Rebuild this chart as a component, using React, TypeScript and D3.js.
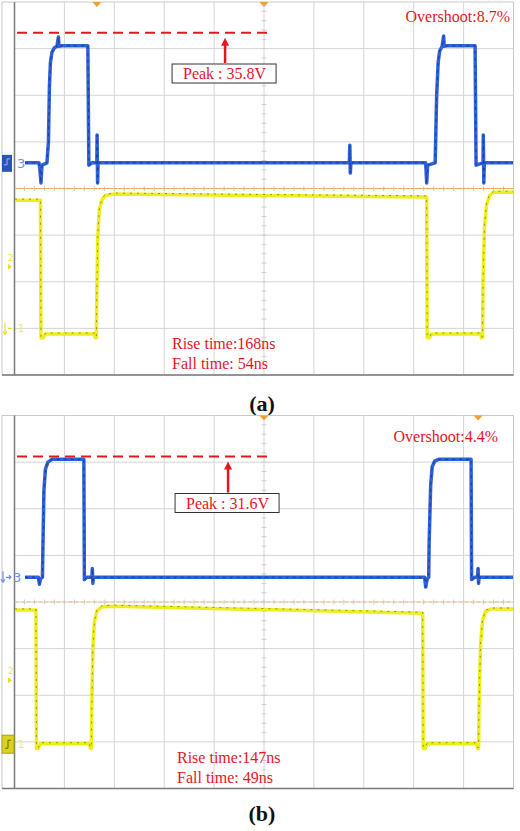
import React from "react";
import * as d3 from "d3";

// ---- data (time and voltage in scope divisions) ----
const blueA: [number, number][] = [
  [0.21, 0.55], [0.49, 0.55], [0.51, 0.4], [0.53, 0.12], [0.55, 0.5], [0.65, 0.55],
  [0.68, 1.0], [0.7, 2.2], [0.72, 2.7], [0.75, 2.92], [0.8, 3.02], [0.85, 3.05],
  [0.88, 3.25], [0.89, 3.05], [0.95, 3.06], [1.47, 3.06], [1.49, 0.5], [1.55, 0.55],
  [1.65, 0.55], [1.655, 1.15], [1.665, 0.12], [1.675, 0.55], [6.71, 0.55], [6.72, 0.93],
  [6.73, 0.33], [6.74, 0.55], [8.24, 0.55], [8.26, 0.12], [8.28, 0.5], [8.43, 0.55],
  [8.46, 2.0], [8.49, 2.7], [8.52, 2.95], [8.57, 3.05], [8.6, 3.27], [8.61, 3.05],
  [8.67, 3.06], [9.23, 3.06], [9.25, 0.5], [9.39, 0.55], [9.395, 1.15], [9.405, 0.12],
  [9.415, 0.55], [9.99, 0.55],
];
const yellowA: [number, number][] = [
  [0.01, -0.25], [0.52, -0.25], [0.53, -3.2], [0.58, -3.2], [0.62, -3.12], [1.6, -3.12],
  [1.62, -3.2], [1.64, -3.2], [1.65, -2.2], [1.67, -1.0], [1.7, -0.45], [1.75, -0.25],
  [1.82, -0.15], [2.0, -0.12], [5.0, -0.15], [8.26, -0.18], [8.27, -3.2], [8.32, -3.2],
  [8.36, -3.12], [9.34, -3.12], [9.36, -3.2], [9.38, -3.2], [9.39, -2.0], [9.42, -0.8],
  [9.46, -0.35], [9.52, -0.15], [9.6, -0.08], [9.99, -0.08],
];
const blueB: [number, number][] = [
  [0.21, 0.53], [0.48, 0.53], [0.5, 0.38], [0.52, 0.5], [0.56, 0.53], [0.57, 1.2],
  [0.59, 2.4], [0.62, 2.85], [0.67, 3.0], [0.75, 3.06], [1.39, 3.06], [1.4, 0.48],
  [1.45, 0.53], [1.55, 0.53], [1.56, 0.72], [1.57, 0.4], [1.58, 0.53], [8.22, 0.53],
  [8.24, 0.32], [8.27, 0.5], [8.3, 0.53], [8.31, 1.3], [8.34, 2.5], [8.37, 2.9],
  [8.42, 3.02], [8.5, 3.06], [9.15, 3.06], [9.16, 0.48], [9.22, 0.53], [9.28, 0.53],
  [9.29, 0.72], [9.3, 0.4], [9.31, 0.53], [9.99, 0.53],
];
const yellowB: [number, number][] = [
  [0.01, -0.17], [0.43, -0.17], [0.44, -3.14], [0.48, -3.14], [0.52, -3.04], [1.5, -3.04],
  [1.52, -3.14], [1.54, -3.14], [1.55, -2.2], [1.57, -1.0], [1.6, -0.45], [1.65, -0.2],
  [1.75, -0.1], [2.0, -0.09], [8.18, -0.24], [8.19, -3.14], [8.23, -3.14], [8.27, -3.04],
  [9.25, -3.04], [9.28, -3.14], [9.3, -3.14], [9.31, -2.2], [9.34, -0.9], [9.38, -0.4],
  [9.44, -0.2], [9.55, -0.15], [9.99, -0.15],
];
const peakValues = [3.34, 3.12];
const peakLabels = ["Peak : 35.8V", "Peak : 31.6V"];
const overshootLabels = ["Overshoot:8.7%", "Overshoot:4.4%"];
const riseLabels = ["Rise time:168ns", "Rise time:147ns"];
const fallLabels = ["Fall time: 54ns", "Fall time: 49ns"];
const captions = ["(a)", "(b)"];
const triggerMarks = [[1.65, 5.0], [5.0, 9.29]];
const peakArrowT = [4.22, 4.28];
const peakLineEnd = [5.16, 5.16];

const RED = "#e5161f";
const FONT = "'Liberation Serif', 'Times New Roman', serif";

function Panel({ idx, top }: { idx: number; top: number }) {
  const bottom = top + 373;
  const x = d3.scaleLinear().domain([0, 10]).range([14.5, 513.5]);
  const y = d3.scaleLinear().domain([-4, 4]).range([bottom, top]);
  const line = d3.line<[number, number]>().x((d) => x(d[0])).y((d) => y(d[1]));
  const blue = idx === 0 ? blueA : blueB;
  const yellow = idx === 0 ? yellowA : yellowB;
  const vt = d3.range(1, 10);
  const ht = d3.range(-3, 4);
  const minorX = d3.range(0, 10.01, 0.2);
  const minorY = d3.range(-4, 4.01, 0.2);
  const ov = idx === 0 ? { x: 510, y: top + 20 } : { x: 498, y: top + 26 };
  const rx = idx === 0 ? 172 : 177;
  const py = y(peakValues[idx]);
  const boxTop = idx === 0 ? top + 61 : top + 77;
  const ax = x(peakArrowT[idx]);
  const chan3Y = y(blue[0][1]);
  const chan1Y = y(idx === 0 ? -3.0 : -3.05);
  const c2 = y(-1.55);
  return (
    <g>
      {/* frame */}
      <rect x={2} y={top} width={511.5} height={373} fill="#fff" stroke="#c9c9c9" />
      {/* grid */}
      {vt.map((t) => (
        <line key={"v" + t} x1={x(t)} x2={x(t)} y1={top} y2={bottom} stroke="#d4d4d4" strokeWidth={1} />
      ))}
      {ht.map((t) => (
        <line key={"h" + t} x1={x(0)} x2={x(10)} y1={y(t)} y2={y(t)} stroke="#d4d4d4" strokeWidth={1} />
      ))}
      {minorX.map((t, i) => (
        <line key={"mx" + i} x1={x(t)} x2={x(t)} y1={y(0) - 2.5} y2={y(0) + 2.5} stroke="#cfcfcf" />
      ))}
      {minorY.map((t, i) => (
        <line key={"my" + i} x1={x(5) - 2.5} x2={x(5) + 2.5} y1={y(t)} y2={y(t)} stroke="#cfcfcf" />
      ))}
      <line x1={x(0)} x2={x(0)} y1={top} y2={bottom} stroke="#7a7a7a" strokeWidth={1.5} />
      <line x1={2} x2={513.5} y1={bottom} y2={bottom} stroke="#7a7a7a" strokeWidth={1.5} />
      {/* trigger level */}
      <line x1={x(0)} x2={x(10)} y1={y(0)} y2={y(0)} stroke={idx === 0 ? "#f2a040" : "#e6c08e"}
        strokeWidth={1.2} strokeDasharray={idx === 0 ? "3 1" : "4 2"} />
      {triggerMarks[idx].map((t, i) => (
        <path key={"tm" + i} d={`M${x(t) - 4.5},${top} L${x(t) + 4.5},${top} L${x(t)},${top + 5} Z`} fill="#f0a030" />
      ))}
      {/* traces */}
      <path d={line(yellow) || ""} fill="none" stroke="#eeee1e" strokeWidth={3.5} strokeLinejoin="round" />
      <path d={line(yellow) || ""} fill="none" stroke="#4a4a20" strokeWidth={0.8} strokeDasharray="2 5" opacity={0.7} transform="translate(0,-1)" />
      <path d={line(blue) || ""} fill="none" stroke="#2f62d6" strokeWidth={3.5} strokeLinejoin="round" />
      <path d={line(blue) || ""} fill="none" stroke="#1a2c8c" strokeWidth={1} strokeDasharray="3 4" opacity={0.8} />
      {/* channel markers */}
      {idx === 0 ? (
        <g>
          <rect x={2} y={chan3Y - 8} width={10} height={17} fill="#2a55b8" />
          <path d={`M4,${chan3Y + 2} L7,${chan3Y + 2} L7,${chan3Y - 4} L10,${chan3Y - 4}`} fill="none" stroke="#9fb4ee" strokeWidth={1} />
        </g>
      ) : (
        <path d={`M3,${chan3Y - 6} L3,${chan3Y + 4} M1,${chan3Y + 2} L3,${chan3Y + 5} L5,${chan3Y + 2} M6,${chan3Y} L11,${chan3Y} M9,${chan3Y - 2} L11,${chan3Y} L9,${chan3Y + 2}`}
          fill="none" stroke="#6f8fe0" strokeWidth={1.2} />
      )}
      <text x={idx === 0 ? 17 : 13} y={chan3Y + 5} fontSize={13} fill="#6f8fe0" fontFamily="DejaVu Sans">3</text>
      {idx === 1 ? (
        <g>
          <rect x={2} y={chan1Y - 9} width={12} height={18} fill="#d9d320" stroke="#a8a010" />
          <path d={`M5,${chan1Y + 4} L8,${chan1Y + 4} L8,${chan1Y - 4} L11,${chan1Y - 4}`} fill="none" stroke="#6a6608" strokeWidth={1} />
        </g>
      ) : (
        <path d={`M5,${chan1Y - 6} L5,${chan1Y + 5} M3,${chan1Y + 3} L5,${chan1Y + 6} L7,${chan1Y + 3} M8,${chan1Y} L12,${chan1Y}`}
          fill="none" stroke="#e8e030" strokeWidth={1.2} />
      )}
      <text x={18} y={chan1Y + 4} fontSize={10} fill="#ecec60" fontFamily="DejaVu Sans">1</text>
      <text x={8} y={c2} fontSize={9} fill="#ecec40" fontFamily="DejaVu Sans">2</text>
      <path d={`M8,${c2 + 3} L12,${c2 + 6} L8,${c2 + 9} Z`} fill="#e8e020" />
      {/* peak annotation */}
      <line x1={x(0.05)} x2={x(peakLineEnd[idx])} y1={py} y2={py} stroke={RED} strokeWidth={2} strokeDasharray="10 6" />
      <line x1={ax} x2={ax} y1={boxTop} y2={py + 12} stroke={RED} strokeWidth={2.5} />
      <path d={`M${ax - 4},${py + 13} L${ax + 4},${py + 13} L${ax},${py + 5} Z`} fill={RED} />
      <rect x={ax - 53} y={boxTop + 1} width={104} height={19} fill="#fff" stroke="#333" strokeWidth={1} />
      <text x={ax - 0.5} y={boxTop + 16} textAnchor="middle" fontSize={16} fill={RED} fontFamily={FONT}>{peakLabels[idx]}</text>
      <text x={ov.x} y={ov.y} textAnchor="end" fontSize={16} fill={RED} fontFamily={FONT}>{overshootLabels[idx]}</text>
      <text x={rx} y={top + 347} fontSize={16} fill={RED} fontFamily={FONT}>{riseLabels[idx]}</text>
      <text x={rx} y={top + 367} fontSize={16} fill={RED} fontFamily={FONT}>{fallLabels[idx]}</text>
      <text x={262} y={idx === 0 ? bottom + 36 : bottom + 32} textAnchor="middle" fontSize={22} fontWeight="bold" fill="#111" fontFamily={FONT}>{captions[idx]}</text>
    </g>
  );
}

export default function App() {
  return (
    <svg width={520} height={831} style={{ position: "absolute", left: 0, top: 0, background: "#fff" }}>
      <rect width={520} height={831} fill="#fff" />
      <Panel idx={0} top={2} />
      <Panel idx={1} top={415.5} />
    </svg>
  );
}
